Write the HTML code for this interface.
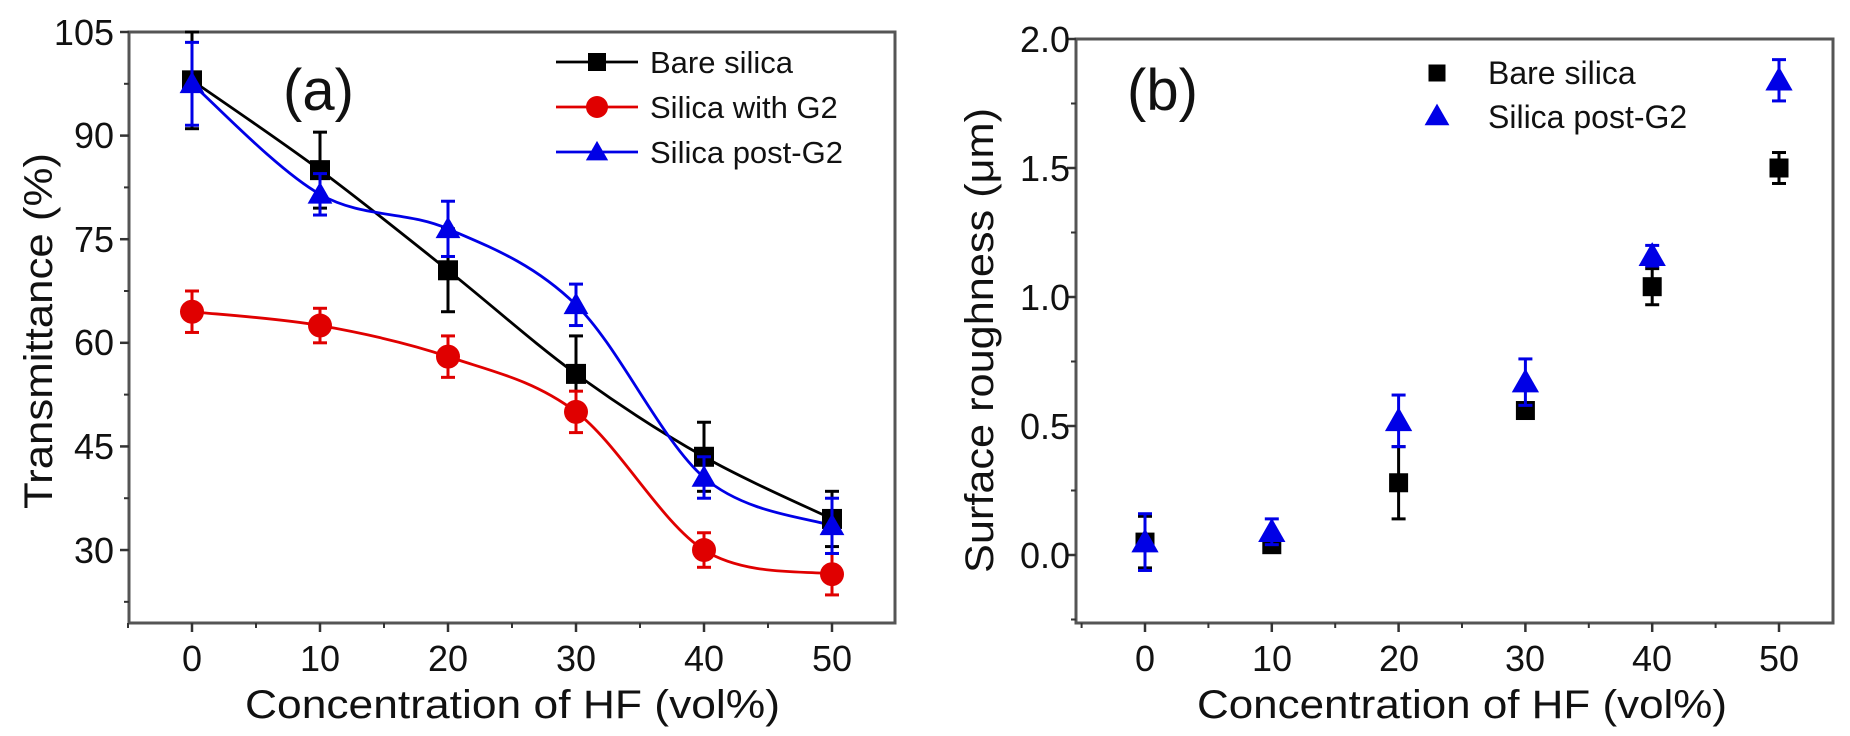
<!DOCTYPE html>
<html><head><meta charset="utf-8"><style>
html,body{margin:0;padding:0;background:#fff;}
svg{display:block;font-family:"Liberation Sans",sans-serif;}
</style></head><body>
<svg id="s" width="1850" height="736" viewBox="0 0 1850 736" xmlns="http://www.w3.org/2000/svg">
<rect width="1850" height="736" fill="#fff"/>
<g id="g"></g>
<g font-size="36" fill="#111" text-anchor="end">
<text x="114" y="45">105</text><text x="114" y="148">90</text><text x="114" y="252">75</text>
<text x="114" y="355">60</text><text x="114" y="459">45</text><text x="114" y="563">30</text>
</g>
<g font-size="36" fill="#111" text-anchor="middle">
<text x="192" y="671">0</text><text x="320" y="671">10</text><text x="448" y="671">20</text>
<text x="576" y="671">30</text><text x="704" y="671">40</text><text x="832" y="671">50</text>
</g>
<text x="245" y="718" font-size="40" fill="#111" textLength="535" lengthAdjust="spacingAndGlyphs">Concentration of HF (vol%)</text>
<text transform="translate(52,509) rotate(-90)" font-size="40" fill="#111" textLength="356" lengthAdjust="spacingAndGlyphs">Transmittance (%)</text>
<text x="283" y="110" font-size="58" fill="#111">(a)</text>
<g font-size="31" fill="#111">
<text x="650" y="73">Bare silica</text>
<text x="650" y="118">Silica with G2</text>
<text x="650" y="163">Silica post-G2</text>
</g>
<g font-size="36" fill="#111" text-anchor="end">
<text x="1070" y="52">2.0</text><text x="1070" y="181">1.5</text><text x="1070" y="310">1.0</text>
<text x="1070" y="439">0.5</text><text x="1070" y="568">0.0</text>
</g>
<g font-size="36" fill="#111" text-anchor="middle">
<text x="1145" y="671">0</text><text x="1272" y="671">10</text><text x="1399" y="671">20</text>
<text x="1525" y="671">30</text><text x="1652" y="671">40</text><text x="1779" y="671">50</text>
</g>
<text x="1197" y="718" font-size="40" fill="#111" textLength="530" lengthAdjust="spacingAndGlyphs">Concentration of HF (vol%)</text>
<text transform="translate(993,573) rotate(-90)" font-size="40" fill="#111" textLength="465" lengthAdjust="spacingAndGlyphs">Surface roughness (μm)</text>
<text x="1127" y="110" font-size="58" fill="#111">(b)</text>
<g font-size="32" fill="#111">
<text x="1488" y="84">Bare silica</text>
<text x="1488" y="128">Silica post-G2</text>
</g>
</svg>
<script>
const g=document.getElementById('g');let h='';
function ln(x1,y1,x2,y2,c,w){h+=`<line x1="${x1}" y1="${y1}" x2="${x2}" y2="${y2}" stroke="${c}" stroke-width="${w}"/>`;}
function mk(t,x,y,c,s){if(t=='s')h+=`<rect x="${x-s/2}" y="${y-s/2}" width="${s}" height="${s}" fill="${c}"/>`;
else if(t=='c')h+=`<circle cx="${x}" cy="${y}" r="${s/2}" fill="${c}"/>`;
else{const r=s*0.62;h+=`<polygon points="${x},${y-r} ${x-r},${y+r*0.75} ${x+r},${y+r*0.75}" fill="${c}"/>`;}}
function err(x,y1,y2,c){ln(x,y1,x,y2,c,3);ln(x-7,y1,x+7,y1,c,3);ln(x-7,y2,x+7,y2,c,3);}
function cr(p){let d=`M${p[0][0]},${p[0][1]}`;for(let i=0;i<p.length-1;i++){const a=p[Math.max(i-1,0)],b=p[i],c=p[i+1],e=p[Math.min(i+2,p.length-1)];
d+=` C${b[0]+(c[0]-a[0])/6},${b[1]+(c[1]-a[1])/6} ${c[0]-(e[0]-b[0])/6},${c[1]-(e[1]-b[1])/6} ${c[0]},${c[1]}`;}return d;}
function frame(L,T,R,B,xt,yt,xm,ym){h+=`<rect x="${L}" y="${T}" width="${R-L}" height="${B-T}" fill="none" stroke="#555" stroke-width="3"/>`;
xt.forEach(x=>ln(x,B,x,B+9,'#333',2.5));xm.forEach(x=>ln(x,B,x,B+5,'#333',2));yt.forEach(y=>ln(L-9,y,L,y,'#333',2.5));ym.forEach(y=>ln(L-5,y,L,y,'#333',2));}
const X=v=>192+12.8*v, Y=t=>32+(105-t)*6.907;
frame(129,32,895,623,[0,10,20,30,40,50].map(X),[105,90,75,60,45,30].map(Y),[-5,5,15,25,35,45].map(X),[97.5,82.5,67.5,52.5,37.5,22.5].map(Y));
const xs=[0,10,20,30,40,50];
const S=[{c:'#000',t:'s',v:[98,85,70.5,55.5,43.5,34.5],e:[7,5.5,6,5.5,5,4]},
{c:'#e00000',t:'c',v:[64.5,62.5,58,50,30,26.5],e:[3,2.5,3,3,2.5,3]},
{c:'#0000e6',t:'t',v:[97.5,81.5,76.5,65.5,40.5,33.5],e:[6,3,4,3,3,4]}];
S.forEach(s=>{h+=`<path d="${cr(xs.map((x,i)=>[X(x),Y(s.v[i])]))}" fill="none" stroke="${s.c}" stroke-width="2.8"/>`;});
S.forEach(s=>{xs.forEach((x,i)=>{err(X(x),Y(s.v[i]+s.e[i]),Y(s.v[i]-s.e[i]),s.c);mk(s.t,X(x),Y(s.v[i]),s.c,s.t=='c'?24:20);});});
[[62,'#000','s'],[107,'#e00000','c'],[152,'#0000e6','t']].forEach(([y,c,t])=>{ln(556,y,638,y,c,2.8);mk(t,597,y,c,t=='c'?22:18);});
const X2=v=>1145+12.68*v, Y2=r=>555-r*258;
frame(1076,39,1833,623,[0,10,20,30,40,50].map(X2),[2,1.5,1,0.5,0].map(Y2),[-5,5,15,25,35,45].map(X2),[1.75,1.25,0.75,0.25,-0.25].map(Y2));
const B=[[0.05,0.1],[0.04,0.02],[0.28,0.14],[0.56,0.02],[1.04,0.07],[1.5,0.06]];
const Bl=[[0.05,0.11],[0.09,0.05],[0.52,0.1],[0.67,0.09],[1.16,0.04],[1.84,0.08]];
xs.forEach((x,i)=>{err(X2(x),Y2(B[i][0]+B[i][1]),Y2(B[i][0]-B[i][1]),'#000');mk('s',X2(x),Y2(B[i][0]),'#000',19);});
xs.forEach((x,i)=>{err(X2(x),Y2(Bl[i][0]+Bl[i][1]),Y2(Bl[i][0]-Bl[i][1]),'#0000e6');mk('t',X2(x),Y2(Bl[i][0]),'#0000e6',22);});
mk('s',1437,73,'#000',17);mk('t',1437,116,'#0000e6',20);
g.innerHTML=h;
</script>
</body></html>
